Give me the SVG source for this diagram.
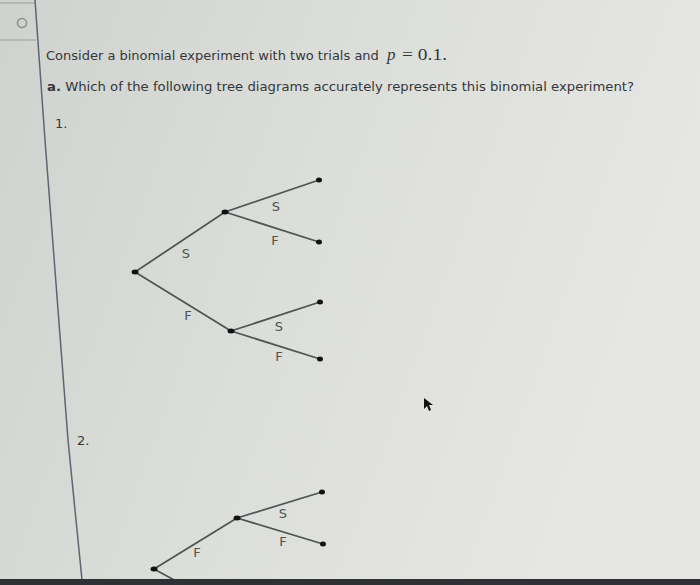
<svg xmlns="http://www.w3.org/2000/svg" width="700" height="585" viewBox="0 0 700 585">
<defs>
<linearGradient id="bg" x1="0" y1="0" x2="1" y2="0.3">
<stop offset="0" stop-color="#cfd2ce"/>
<stop offset="0.5" stop-color="#dcdeda"/>
<stop offset="1" stop-color="#e6e7e4"/>
</linearGradient>
<style>
.q{font-family:"DejaVu Sans","Verdana",sans-serif;font-size:13px;fill:#35373a}
.m{font-family:"Liberation Serif","Times New Roman",serif;font-size:17px;fill:#35373a}
.lab{font-family:"DejaVu Sans",sans-serif;font-size:13px;fill:#505254;text-anchor:middle}
.edge{stroke:#4e5355;stroke-width:1.7;fill:none}
.dot{fill:#111}
</style>
</defs>
<rect width="700" height="585" fill="url(#bg)"/>
<!-- left side panel -->
<line x1="0" y1="3" x2="34" y2="3" stroke="#9a9c9a" stroke-width="1"/>
<line x1="0" y1="40" x2="36" y2="40" stroke="#9a9c9a" stroke-width="1"/>
<circle cx="22" cy="23" r="4.5" fill="none" stroke="#8e908e" stroke-width="1.6"/>
<polyline points="35,0 45,140 68,440 82,580" fill="none" stroke="#5e6474" stroke-width="1.5"/>
<!-- question text -->
<text class="q" x="46" y="60">Consider a binomial experiment with two trials and</text>
<text class="m" x="387" y="60" font-style="italic">p</text>
<text class="m" x="402" y="60" textLength="45" lengthAdjust="spacingAndGlyphs">= 0.1.</text>
<text class="q" x="47" y="91" textLength="587" lengthAdjust="spacingAndGlyphs"><tspan font-weight="bold">a.</tspan> Which of the following tree diagrams accurately represents this binomial experiment?</text>
<text class="q" x="55" y="128">1.</text>
<text class="q" x="77" y="445">2.</text>
<!-- connectors -->
<g id="connectors" class="edge">
<line x1="135" y1="272" x2="225" y2="212"/>
<line x1="135" y1="272" x2="231" y2="331"/>
<line x1="225" y1="212" x2="319" y2="180"/>
<line x1="225" y1="212" x2="319" y2="242"/>
<line x1="231" y1="331" x2="320" y2="302"/>
<line x1="231" y1="331" x2="320" y2="359"/>
<line x1="154" y1="569" x2="237" y2="518"/>
<line x1="154" y1="569" x2="176" y2="581"/>
<line x1="237" y1="518" x2="322" y2="492"/>
<line x1="237" y1="518" x2="323" y2="544"/>
</g>
<!-- edge labels -->
<g id="labels">
<text class="lab" x="186" y="258">S</text>
<text class="lab" x="188" y="320">F</text>
<text class="lab" x="276" y="211">S</text>
<text class="lab" x="275" y="245">F</text>
<text class="lab" x="279" y="331">S</text>
<text class="lab" x="279" y="361">F</text>
<text class="lab" x="197" y="557">F</text>
<text class="lab" x="283" y="518">S</text>
<text class="lab" x="283" y="546">F</text>
</g>
<!-- nodes tree 1 -->
<g id="t1-root"><ellipse class="dot" cx="135" cy="272" rx="3.5" ry="2.5"/></g>
<g id="t1-S"><ellipse class="dot" cx="225" cy="212" rx="3.5" ry="2.5"/></g>
<g id="t1-F"><ellipse class="dot" cx="231" cy="331" rx="3.5" ry="2.5"/></g>
<g id="t1-SS"><ellipse class="dot" cx="319" cy="180" rx="3" ry="2.5"/></g>
<g id="t1-SF"><ellipse class="dot" cx="319" cy="242" rx="3" ry="2.5"/></g>
<g id="t1-FS"><ellipse class="dot" cx="320" cy="302" rx="3" ry="2.5"/></g>
<g id="t1-FF"><ellipse class="dot" cx="320" cy="359" rx="3" ry="2.5"/></g>
<!-- nodes tree 2 -->
<g id="t2-root"><ellipse class="dot" cx="154" cy="569" rx="3.5" ry="2.5"/></g>
<g id="t2-F"><ellipse class="dot" cx="237" cy="518" rx="3.5" ry="2.5"/></g>
<g id="t2-FS"><ellipse class="dot" cx="322" cy="492" rx="3" ry="2.5"/></g>
<g id="t2-FF"><ellipse class="dot" cx="323" cy="544" rx="3" ry="2.5"/></g>
<!-- mouse cursor -->
<polygon points="424,398 424,409 427,406 429,411 431,410 429,405 433,405" fill="#111"/>
<!-- bottom bezel -->
<rect x="0" y="579" width="700" height="6" fill="#2e3033"/>
</svg>
